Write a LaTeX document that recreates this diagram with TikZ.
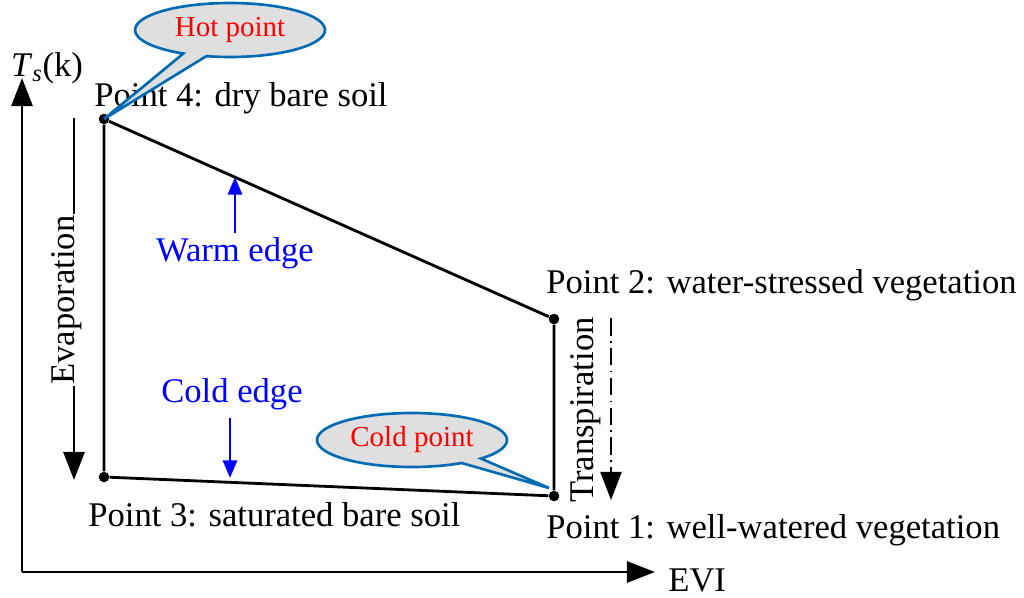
\documentclass[tikz,border=0pt]{standalone}
\usepackage{fontspec}
\setmainfont{Liberation Serif}
\usetikzlibrary{arrows.meta,shapes.callouts}
\begin{document}
\begin{tikzpicture}[x=0.02cm,y=-0.02cm,
  lbl/.style={font=\fontsize{19.7}{22}\selectfont,inner sep=0pt},
  blbl/.style={lbl,text=blue},
  dot/.style={circle,fill,inner sep=0pt,minimum size=6pt},
  bigarrow/.style={-{Triangle[length=16pt,width=12pt]},line width=1.5pt},
  barrow/.style={-{Triangle[length=10pt,width=8pt]},blue,line width=1.5pt},
  bubble/.style={ellipse callout,draw=blue!40!cyan!70!black,line width=1.5pt,fill=gray!25,text=red,font=\fontsize{16.5}{19}\selectfont,minimum width=190*0.02cm,minimum height=54*0.02cm,inner sep=0pt}]
\useasboundingbox (0,0) rectangle (1024,598);
\coordinate (oy) at (22,572);
\coordinate (ytop) at (22,78);
\coordinate (xend) at (655,572);
\draw[bigarrow] (oy) -- (ytop);
\draw[bigarrow] (oy) -- (xend);
\node[lbl] (ts) at (47,68) {\textit{T}\textsubscript{\textit{s}}(k)};
\node[lbl,anchor=west] (evi) at (668,580) {EVI};
\node[dot] (p4) at (104,119) {};
\node[dot] (p2) at (554,319) {};
\node[dot] (p3) at (104,477) {};
\node[dot] (p1) at (554,496) {};
\draw[line width=1.6pt] (p4) -- (p2) -- (p1) -- (p3) -- (p4);
\node[lbl,anchor=west] (l4) at (94,98) {Point 4: dry bare soil};
\node[lbl,anchor=west] (l2) at (546,285) {Point 2: water-stressed vegetation};
\node[lbl,anchor=west] (l3) at (88,515) {Point 3: saturated bare soil};
\node[lbl,anchor=west] (l1) at (546,530) {Point 1: well-watered vegetation};
\coordinate (e1) at (74,118); \coordinate (e2) at (74,480);
\draw[bigarrow] (e1) -- (e2);
\node[lbl,rotate=90] (ev) at (67,300) [fill=white,inner sep=1pt] {Evaporation};
\coordinate (t1) at (611,318); \coordinate (t2) at (611,500);
\draw[bigarrow,dash pattern=on 10pt off 3pt on 1pt off 3pt,line width=1.2pt] (t1) -- (t2);
\node[lbl,rotate=90] (tr) at (586,410) {Transpiration};
\coordinate (w1) at (235,233); \coordinate (w2) at (235,177);
\draw[barrow] (w1) -- (w2);
\node[blbl] (we) at (235,253) {Warm edge};
\coordinate (c1) at (230,418); \coordinate (c2) at (230,478);
\draw[barrow] (c1) -- (c2);
\node[blbl] (ce) at (232,394) {Cold edge};
\node[bubble,callout absolute pointer={(p4)}] (hot) at (230,30) {Hot point};
\node[bubble,callout absolute pointer={(549,488)}] (cold) at (412,440) {Cold point};
\end{tikzpicture}
\end{document}
